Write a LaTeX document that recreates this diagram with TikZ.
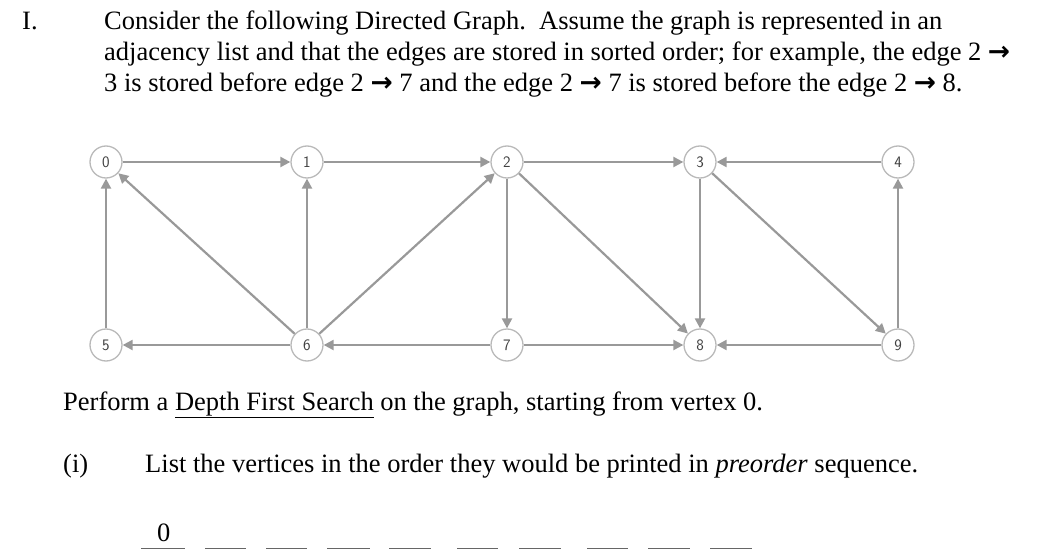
\documentclass[tikz,border=0pt]{standalone}
\usepackage{fontspec}
\setmainfont{Liberation Serif}
\newfontfamily\arrfont{DejaVu Sans}
\usetikzlibrary{arrows.meta}
\newcommand{\ar}{{\arrfont\bfseries →}}
\begin{document}
\begin{tikzpicture}[x=1pt,y=-1pt,
  vtx/.style={circle,draw=gray!55,line width=1.3pt,minimum size=32pt,inner sep=0pt,font=\sffamily\fontsize{16}{16}\selectfont,text=black!75},
  edge/.style={draw=gray!80,line width=2.2pt,-{Triangle[length=10pt,width=10pt]}},
  txt/.style={anchor=base west,inner sep=0pt,font=\fontsize{26.5}{30}\selectfont}]
\useasboundingbox (0,0) rectangle (1054,556);
\node[txt] (I) at (22,30) {I.};
\node[txt] (l1) at (104,30) {Consider the following Directed Graph.\ \ Assume the graph is represented in an};
\node[txt] (l2) at (104,61) {adjacency list and that the edges are stored in sorted order; for example, the edge 2 \ar};
\node[txt] (l3) at (104,92) {3 is stored before edge 2 \ar\ 7 and the edge 2 \ar\ 7 is stored before the edge 2 \ar\ 8.};
\foreach \n/\x in {0/106,1/307,2/507,3/700,4/898}{\node[vtx] (v\n) at (\x,162) {\n};}
\foreach \n/\x in {5/106,6/307,7/507,8/700,9/898}{\node[vtx] (v\n) at (\x,345) {\n};}
\foreach \a/\b in {0/1,1/2,2/3,4/3,5/0,6/0,6/1,6/2,2/7,2/8,3/8,3/9,9/4,6/5,7/6,7/8,9/8}{\draw[edge] (v\a) -- (v\b);}
\node[txt] (p) at (63,410) {Perform a \underline{Depth First Search} on the graph, starting from vertex 0.};
\node[txt] (i) at (63,472) {(i)};
\node[txt] (li) at (145,472) {List the vertices in the order they would be printed in \textit{preorder} sequence.};
\node[txt] (z) at (157,541) {0};
\foreach \a/\b [count=\k] in {141/185,205/246,266/307,327/370,389/431,457/498,519/561,587/628,648/690,710/752}{
  \coordinate (s\k) at (\a,548); \coordinate (e\k) at (\b,548);
  \draw[line width=1pt,gray!80!black] (s\k) -- (e\k);}
\end{tikzpicture}
\end{document}
